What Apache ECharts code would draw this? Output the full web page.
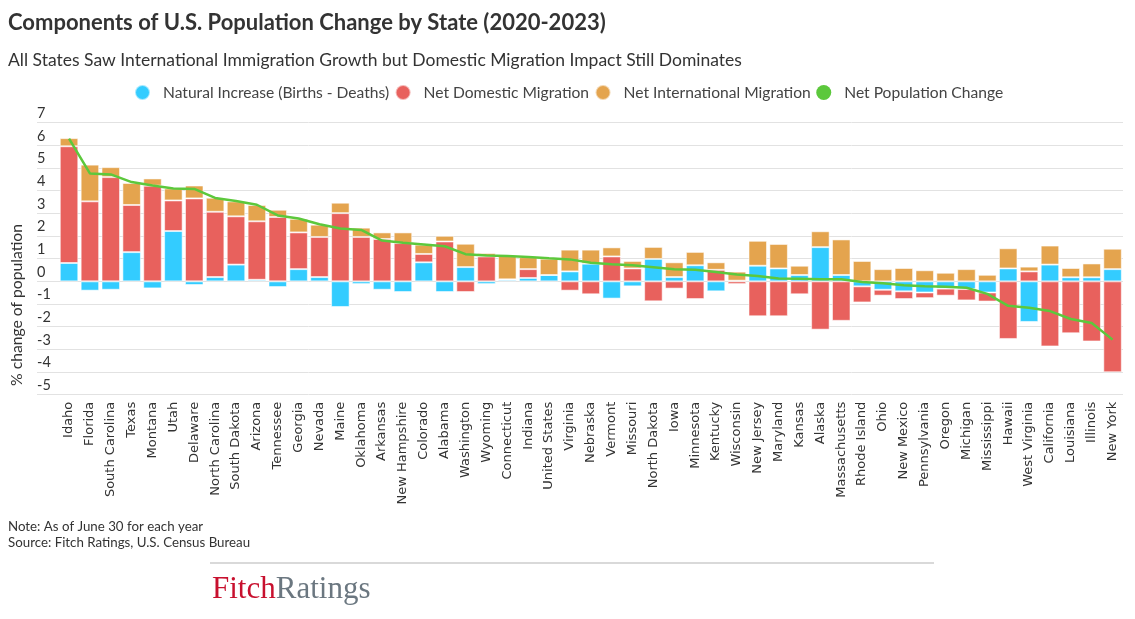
<!DOCTYPE html>
<html>
<head>
<meta charset="utf-8">
<script src="https://cdn.jsdelivr.net/npm/echarts@6/dist/echarts.min.js"></script>
<style>
html,body{margin:0;padding:0;background:#fff;}
#chart{width:1135px;height:619px;}
</style>
</head>
<body>
<div id="chart"></div>
<script>
const states = ["Idaho","Florida","South Carolina","Texas","Montana","Utah","Delaware","North Carolina","South Dakota","Arizona","Tennessee","Georgia","Nevada","Maine","Oklahoma","Arkansas","New Hampshire","Colorado","Alabama","Washington","Wyoming","Connecticut","Indiana","United States","Virginia","Nebraska","Vermont","Missouri","North Dakota","Iowa","Minnesota","Kentucky","Wisconsin","New Jersey","Maryland","Kansas","Alaska","Massachusetts","Rhode Island","Ohio","New Mexico","Pennsylvania","Oregon","Michigan","Mississippi","Hawaii","West Virginia","California","Louisiana","Illinois","New York"];

const naturalIncrease = [0.81,-0.41,-0.37,1.29,-0.31,2.22,-0.16,0.19,0.74,0.07,-0.25,0.54,0.19,-1.13,-0.12,-0.37,-0.47,0.84,-0.47,0.63,-0.12,0.07,0.15,0.28,0.44,0.78,-0.76,-0.22,0.99,0.19,0.71,-0.44,0.03,0.69,0.57,0.28,1.51,0.28,-0.22,-0.37,-0.44,-0.49,-0.32,-0.34,-0.49,0.57,-1.79,0.74,0.18,0.18,0.54];

const netDomestic = [5.15,3.53,4.60,2.08,4.22,1.35,3.66,2.88,2.13,2.58,2.84,1.62,1.77,3.01,1.96,1.87,1.69,0.37,1.76,-0.47,1.10,0.02,0.39,0,-0.41,-0.57,1.10,0.57,-0.88,-0.32,-0.78,0.51,-0.12,-1.54,-1.54,-0.57,-2.13,-1.74,-0.71,-0.26,-0.34,-0.25,-0.31,-0.50,-0.40,-2.54,0.44,-2.87,-2.29,-2.65,-4.01];

const netInternational = [0.36,1.62,0.44,0.97,0.32,0.53,0.57,0.62,0.66,0.72,0.32,0.60,0.54,0.46,0.41,0.29,0.47,0.41,0.25,1.03,0.15,1.03,0.53,0.72,0.96,0.62,0.40,0.33,0.53,0.65,0.59,0.33,0.40,1.10,1.08,0.41,0.70,1.57,0.90,0.54,0.59,0.49,0.38,0.54,0.29,0.89,0.21,0.84,0.41,0.61,0.90];

const netChange = [6.30,4.76,4.72,4.38,4.23,4.10,4.08,3.68,3.55,3.38,2.91,2.77,2.52,2.33,2.27,1.80,1.70,1.63,1.55,1.20,1.14,1.12,1.08,1.02,0.97,0.82,0.75,0.71,0.62,0.53,0.51,0.41,0.30,0.24,0.13,0.12,0.09,0.09,-0.03,-0.08,-0.17,-0.22,-0.24,-0.28,-0.55,-1.08,-1.16,-1.31,-1.66,-1.84,-2.57];

const yTicks = { min: -5, max: 7, interval: 1 };

const C_BLUE = '#33ccff', C_RED = '#e8615d', C_ORANGE = '#e4a44e', C_GREEN = '#5cc83c';

const chart = echarts.init(document.getElementById('chart'), null, {renderer: 'canvas'});

const barBase = {
  type: 'bar', stack: 'total', xAxisIndex: 1, yAxisIndex: 1,
  barWidth: 18.5,
  itemStyle: { borderColor: 'rgba(255,255,255,0.55)', borderWidth: 1 },
  emphasis: { disabled: true }
};

chart.setOption({
  animation: false,
  backgroundColor: '#fff',
  title: [
    { text: 'Components of U.S. Population Change by State (2020-2023)', left: 8, top: 12, padding: 0,
      textStyle: { fontFamily: 'Lato', fontSize: 22, fontWeight: 'bold', color: '#333' } },
    { text: 'All States Saw International Immigration Growth but Domestic Migration Impact Still Dominates', left: 8, top: 51, padding: 0,
      textStyle: { fontFamily: 'Lato', fontSize: 17.5, fontWeight: 'normal', color: '#333' } },
    { text: 'Note: As of June 30 for each year\nSource: Fitch Ratings, U.S. Census Bureau', left: 8, top: 519, padding: 0,
      textStyle: { fontFamily: 'Lato', fontSize: 13.3, fontWeight: 'normal', color: '#333', lineHeight: 15.5 } }
  ],
  legend: {
    left: 129, top: 79,
    icon: 'circle', itemWidth: 31, itemHeight: 15, itemGap: 5.5,
    textStyle: { fontFamily: 'Lato', fontSize: 15.6, color: '#444' },
    data: ['Natural Increase (Births - Deaths)', 'Net Domestic Migration', 'Net International Migration', 'Net Population Change']
  },
  grid: [
    { left: 37, right: 12, top: 122.7, height: 272 },
    { left: 58.6, right: 12, top: 122.7, height: 272 }
  ],
  xAxis: [
    { gridIndex: 0, type: 'value', show: false, min: 0, max: 1 },
    { gridIndex: 1, type: 'category', data: states,
      axisLine: { show: false }, axisTick: { show: false },
      axisLabel: { interval: 0, rotate: 90, margin: 7, fontFamily: 'DejaVu Sans', fontSize: 13, color: '#333' } }
  ],
  yAxis: [
    { gridIndex: 0, type: 'value', min: yTicks.min, max: yTicks.max, interval: yTicks.interval,
      axisLine: { show: false }, axisTick: { show: false },
      splitLine: { lineStyle: { color: '#e2e2e2', width: 1 } },
      axisLabel: { inside: true, margin: 0, verticalAlign: 'bottom', padding: [0, 0, 2, 0],
        fontFamily: 'Lato', fontSize: 14.5, color: '#333' } },
    { gridIndex: 1, type: 'value', min: yTicks.min, max: yTicks.max, interval: yTicks.interval, show: false,
      splitLine: { show: false } }
  ],
  graphic: [
    { type: 'text', x: 17, y: 305, rotation: Math.PI / 2,
      style: { text: '% change of population', fontFamily: 'Lato', fontSize: 15.7, fill: '#333',
        textAlign: 'center', textVerticalAlign: 'middle' } },
    { type: 'line', shape: { x1: 210, y1: 563, x2: 934, y2: 563 },
      style: { stroke: '#cccccc', lineWidth: 1.5 } },
    { type: 'text', x: 212, y: 574,
      style: { text: '{a|Fitch}{b|Ratings}',
        rich: { a: { fontFamily: 'Liberation Serif', fontSize: 31, fill: '#c8102e', color: '#c8102e' },
                b: { fontFamily: 'Liberation Serif', fontSize: 31, fill: '#6b7780', color: '#6b7780' } } } }
  ],
  series: [
    Object.assign({}, barBase, { name: 'Natural Increase (Births - Deaths)', data: naturalIncrease, color: C_BLUE,
      itemStyle: Object.assign({}, barBase.itemStyle, { color: C_BLUE }) }),
    Object.assign({}, barBase, { name: 'Net Domestic Migration', data: netDomestic, color: C_RED,
      itemStyle: Object.assign({}, barBase.itemStyle, { color: C_RED }) }),
    Object.assign({}, barBase, { name: 'Net International Migration', data: netInternational, color: C_ORANGE,
      itemStyle: Object.assign({}, barBase.itemStyle, { color: C_ORANGE }) }),
    { name: 'Net Population Change', type: 'line', xAxisIndex: 1, yAxisIndex: 1, data: netChange,
      color: C_GREEN, symbol: 'none', showSymbol: false, z: 5,
      itemStyle: { color: C_GREEN }, lineStyle: { color: C_GREEN, width: 2.5 },
      emphasis: { disabled: true } }
  ]
});
</script>
</body>
</html>
